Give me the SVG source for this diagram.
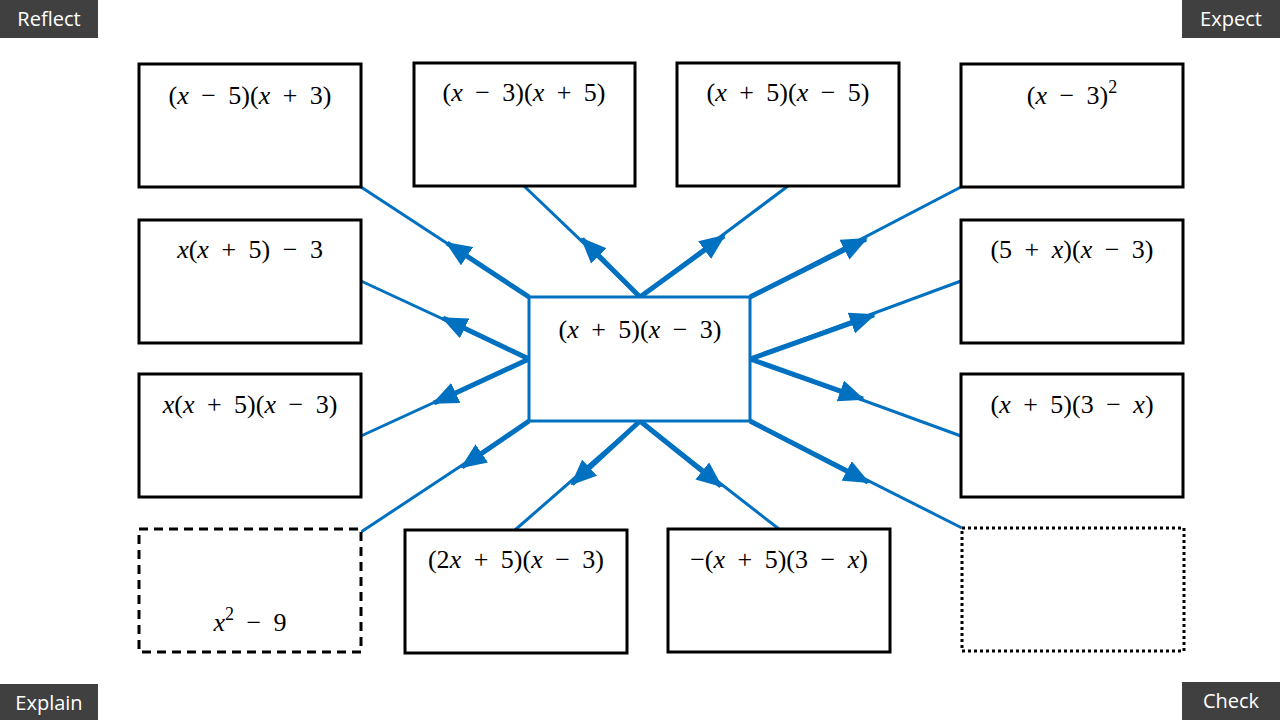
<svg xmlns="http://www.w3.org/2000/svg" width="1280" height="720" viewBox="0 0 1280 720">
<defs>
<marker id="ah" markerUnits="userSpaceOnUse" markerWidth="26" markerHeight="22" refX="24" refY="11" orient="auto">
<path d="M0,0 L26,11 L0,22 z" fill="#0070C0"/>
</marker>
<style>
.box{fill:#fff;stroke:#000;stroke-width:3}
.cbox{fill:#fff;stroke:#0070C0;stroke-width:3}
.thin{stroke:#0070C0;stroke-width:3;fill:none}
.thick{stroke:#0070C0;stroke-width:5;fill:none;marker-end:url(#ah)}
.m{font-family:"Liberation Serif","DejaVu Serif",serif;font-size:26px;word-spacing:6px;fill:#000;text-anchor:middle}
.i{font-style:italic}
.tag{fill:#404040}
.tagt{font-family:"Open Sans","Noto Sans",sans-serif;font-size:20px;fill:#fff;text-anchor:middle}
</style>
</defs>
<rect width="1280" height="720" fill="#fff"/>

<g id="connectors">
<line class="thin" x1="529" y1="297" x2="361" y2="187"/>
<line class="thick" x1="529" y1="297" x2="447" y2="243"/>
<line class="thin" x1="640" y1="297" x2="524" y2="186"/>
<line class="thick" x1="640" y1="297" x2="582" y2="239"/>
<line class="thin" x1="640" y1="297" x2="788" y2="186"/>
<line class="thick" x1="640" y1="297" x2="724" y2="236"/>
<line class="thin" x1="750" y1="297" x2="961" y2="187"/>
<line class="thick" x1="750" y1="297" x2="866" y2="239"/>
<line class="thin" x1="529" y1="359" x2="361" y2="281"/>
<line class="thick" x1="529" y1="359" x2="443" y2="318"/>
<line class="thin" x1="529" y1="359" x2="361" y2="436"/>
<line class="thick" x1="529" y1="359" x2="434" y2="403"/>
<line class="thin" x1="750" y1="359" x2="961" y2="281"/>
<line class="thick" x1="750" y1="359" x2="874" y2="315"/>
<line class="thin" x1="750" y1="359" x2="961" y2="436"/>
<line class="thick" x1="750" y1="359" x2="863" y2="399"/>
<line class="thin" x1="529" y1="421" x2="361" y2="532"/>
<line class="thick" x1="529" y1="421" x2="462" y2="467"/>
<line class="thin" x1="640" y1="421" x2="515" y2="530"/>
<line class="thick" x1="640" y1="421" x2="572" y2="484"/>
<line class="thin" x1="640" y1="421" x2="779" y2="529"/>
<line class="thick" x1="640" y1="421" x2="721" y2="486"/>
<line class="thin" x1="750" y1="421" x2="962" y2="528"/>
<line class="thick" x1="750" y1="421" x2="868" y2="482"/>
</g>

<g id="center">
<rect class="cbox" x="529" y="297" width="221" height="124"/>
<text class="m" x="640" y="338">(<tspan class="i">x</tspan> + 5)(<tspan class="i">x</tspan> − 3)</text>
</g>

<g id="n1">
<rect class="box" x="139" y="64" width="222" height="123"/>
<text class="m" x="250" y="104">(<tspan class="i">x</tspan> − 5)(<tspan class="i">x</tspan> + 3)</text>
</g>
<g id="n2">
<rect class="box" x="414" y="63" width="221" height="123"/>
<text class="m" x="524" y="101">(<tspan class="i">x</tspan> − 3)(<tspan class="i">x</tspan> + 5)</text>
</g>
<g id="n3">
<rect class="box" x="677" y="63" width="222" height="123"/>
<text class="m" x="788" y="101">(<tspan class="i">x</tspan> + 5)(<tspan class="i">x</tspan> − 5)</text>
</g>
<g id="n4">
<rect class="box" x="961" y="64" width="222" height="123"/>
<text class="m" x="1072" y="104">(<tspan class="i">x</tspan> − 3)<tspan dy="-11" font-size="18">2</tspan></text>
</g>
<g id="n5">
<rect class="box" x="139" y="220" width="222" height="123"/>
<text class="m" x="250" y="258"><tspan class="i">x</tspan>(<tspan class="i">x</tspan> + 5) − 3</text>
</g>
<g id="n6">
<rect class="box" x="961" y="220" width="222" height="123"/>
<text class="m" x="1072" y="258">(5 + <tspan class="i">x</tspan>)(<tspan class="i">x</tspan> − 3)</text>
</g>
<g id="n7">
<rect class="box" x="139" y="374" width="222" height="123"/>
<text class="m" x="250" y="413"><tspan class="i">x</tspan>(<tspan class="i">x</tspan> + 5)(<tspan class="i">x</tspan> − 3)</text>
</g>
<g id="n8">
<rect class="box" x="961" y="374" width="222" height="123"/>
<text class="m" x="1072" y="413">(<tspan class="i">x</tspan> + 5)(3 − <tspan class="i">x</tspan>)</text>
</g>
<g id="n9">
<rect class="box" x="139" y="529" width="222" height="123" stroke-dasharray="9,6"/>
<text class="m" x="250" y="631"><tspan class="i">x</tspan><tspan dy="-11" font-size="18">2</tspan><tspan dy="11"> − 9</tspan></text>
</g>
<g id="n10">
<rect class="box" x="405" y="530" width="222" height="123"/>
<text class="m" x="516" y="568">(2<tspan class="i">x</tspan> + 5)(<tspan class="i">x</tspan> − 3)</text>
</g>
<g id="n11">
<rect class="box" x="668" y="529" width="222" height="123"/>
<text class="m" x="779" y="568">−(<tspan class="i">x</tspan> + 5)(3 − <tspan class="i">x</tspan>)</text>
</g>
<g id="n12">
<rect class="box" x="962" y="528" width="222" height="123" stroke-dasharray="3,3"/>
</g>

<g id="reflect"><rect class="tag" x="0" y="0" width="98" height="38"/><text class="tagt" x="49" y="26">Reflect</text></g>
<g id="expect"><rect class="tag" x="1182" y="0" width="98" height="38"/><text class="tagt" x="1231" y="26">Expect</text></g>
<g id="explain"><rect class="tag" x="0" y="684" width="98" height="36"/><text class="tagt" x="49" y="710">Explain</text></g>
<g id="check"><rect class="tag" x="1182" y="682" width="98" height="38"/><text class="tagt" x="1231" y="708">Check</text></g>
</svg>
